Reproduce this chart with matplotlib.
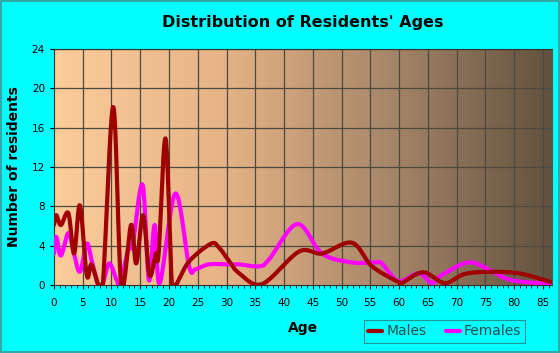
import numpy as np
import matplotlib
matplotlib.use("Agg")
import matplotlib.pyplot as plt
from matplotlib.colors import LinearSegmentedColormap
from matplotlib.patches import Rectangle

# Data (age, residents)
male_ages = [0, 0.4, 1.2, 2.5, 3.5, 4.5, 5.7, 6.5, 7.7, 8.5, 10.3, 11.7, 13.4, 14.3, 15.5, 16.6,
             17.7, 18.2, 19.4, 20.5, 21.2, 23.5, 27.3, 28.7, 30.5, 32.2, 36.2, 42.6, 46.6, 51.8,
             55.3, 59.9, 60.5, 64.2, 68.0, 72.0, 80.1, 86.4]
male_vals = [6.1, 7.1, 6.1, 7.3, 3.2, 8.1, 1.0, 2.1, 0, 0, 18.1, 0, 6.1, 2.2, 7.1, 1.0,
             3.2, 3.2, 14.9, 0, 0, 2.4, 4.2, 3.8, 2.4, 1.2, 0.1, 3.4, 3.2, 4.3,
             1.9, 0.3, 0.2, 1.3, 0.2, 1.2, 1.25, 0.3]

female_ages = [0, 0.4, 1.2, 2.5, 3.4, 4.5, 5.7, 6.5, 7.7, 8.5, 9.6, 10.9, 11.5, 12.9, 13.7, 15.4,
               16.5, 17.5, 18.4, 21.1, 23.5, 24.6, 26.9, 30.5, 32.2, 35.7, 37.4, 42.3, 46.6, 51.8,
               55.9, 57.0, 59.9, 63.4, 65.7, 67.4, 72.0, 75.5, 79.5, 86.4]
female_vals = [3.2, 4.9, 3.0, 5.3, 3.4, 1.35, 4.2, 2.6, 0, 0.2, 2.2, 0.5, 0, 3.6, 4.2, 10.2,
               0.5, 6.1, 0.2, 9.3, 1.9, 1.6, 2.1, 2.1, 2.1, 1.9, 2.6, 6.2, 3.2, 2.3,
               2.3, 2.2, 0.4, 1.2, 0.2, 1.0, 2.3, 1.6, 0.5, 0.1]

x_ticks = list(range(0, 90, 5))
y_ticks = list(range(0, 25, 4))


def smooth(xs, ys, n=20):
    xs = np.asarray(xs, float)
    ys = np.asarray(ys, float)
    px = np.concatenate([[2 * xs[0] - xs[1]], xs, [2 * xs[-1] - xs[-2]]])
    py = np.concatenate([[2 * ys[0] - ys[1]], ys, [2 * ys[-1] - ys[-2]]])
    ox, oy = [], []
    for i in range(1, len(px) - 2):
        t = np.linspace(0, 1, n, endpoint=False)
        for P, out in ((px, ox), (py, oy)):
            p0, p1, p2, p3 = P[i - 1], P[i], P[i + 1], P[i + 2]
            out.extend(0.5 * ((2 * p1) + (-p0 + p2) * t + (2 * p0 - 5 * p1 + 4 * p2 - p3) * t ** 2
                              + (-p0 + 3 * p1 - 3 * p2 + p3) * t ** 3))
    ox.append(xs[-1]); oy.append(ys[-1])
    return np.array(ox), np.clip(np.array(oy), 0, None)


fig = plt.figure(figsize=(5.6, 3.53), dpi=100, facecolor="#00FFFF")
ax = fig.add_axes([0.0964, 0.1926, 0.8893, 0.6686])
xmax = 86.6
ax.set_xlim(0, xmax)
ax.set_ylim(0, 24)

cmap = LinearSegmentedColormap.from_list("bg", ["#FCCC9A", "#E6B487", "#A8876A", "#62513E"])
grad = np.linspace(0, 1, 256).reshape(1, -1)
ax.imshow(grad, cmap=cmap, aspect="auto", extent=[0, xmax, 0, 24], zorder=0)

for x in x_ticks[1:]:
    ax.axvline(x, color="#4a4a40", lw=0.9, zorder=1)
for y in y_ticks[1:]:
    ax.axhline(y, color="#4a4a40", lw=0.9, zorder=1)

mx, my = smooth(male_ages, male_vals)
fx, fy = smooth(female_ages, female_vals)
ax.plot(fx, fy, color="#FF00FF", lw=3, label="Females", zorder=3, solid_capstyle="round")
ax.plot(mx, my, color="#A00000", lw=3, label="Males", zorder=4, solid_capstyle="round")

ax.set_xticks(x_ticks)
ax.set_xticks(np.arange(0, 87, 1), minor=True)
ax.set_yticks(y_ticks)
ax.tick_params(axis="both", labelsize=7.5, colors="black", length=3, width=0.8)
ax.tick_params(axis="x", which="major", pad=6)
ax.tick_params(axis="x", which="minor", length=2, width=0.6)
for s in ax.spines.values():
    s.set_color("#333333")
    s.set_linewidth(0.8)
ax.spines["right"].set_visible(False)

ax.set_title("Distribution of Residents' Ages", fontsize=11.5, fontweight="bold", pad=16)
ax.set_xlabel("Age", fontsize=10, fontweight="bold", labelpad=10)
ax.set_ylabel("Number of residents", fontsize=10, fontweight="bold", labelpad=8)

handles, labels = ax.get_legend_handles_labels()
leg = fig.legend([handles[1], handles[0]], ["Males", "Females"], loc="center",
                 bbox_to_anchor=(0.794, 0.061), ncol=2, fontsize=10, frameon=True,
                 fancybox=False, handlelength=1.0, handletextpad=0.3, columnspacing=1.4,
                 borderpad=0.3)
leg.get_frame().set_facecolor("#00FFFF")
leg.get_frame().set_edgecolor("#2b7a7a")
leg.get_frame().set_linewidth(0.8)
for t in leg.get_texts():
    t.set_color("#1f4f4f")

fig.patches.append(Rectangle((0.002, 0.003), 0.996, 0.994, transform=fig.transFigure,
                             fill=False, edgecolor="#3a9a9a", lw=1.2))

fig.savefig("out.png", dpi=100, facecolor=fig.get_facecolor())
